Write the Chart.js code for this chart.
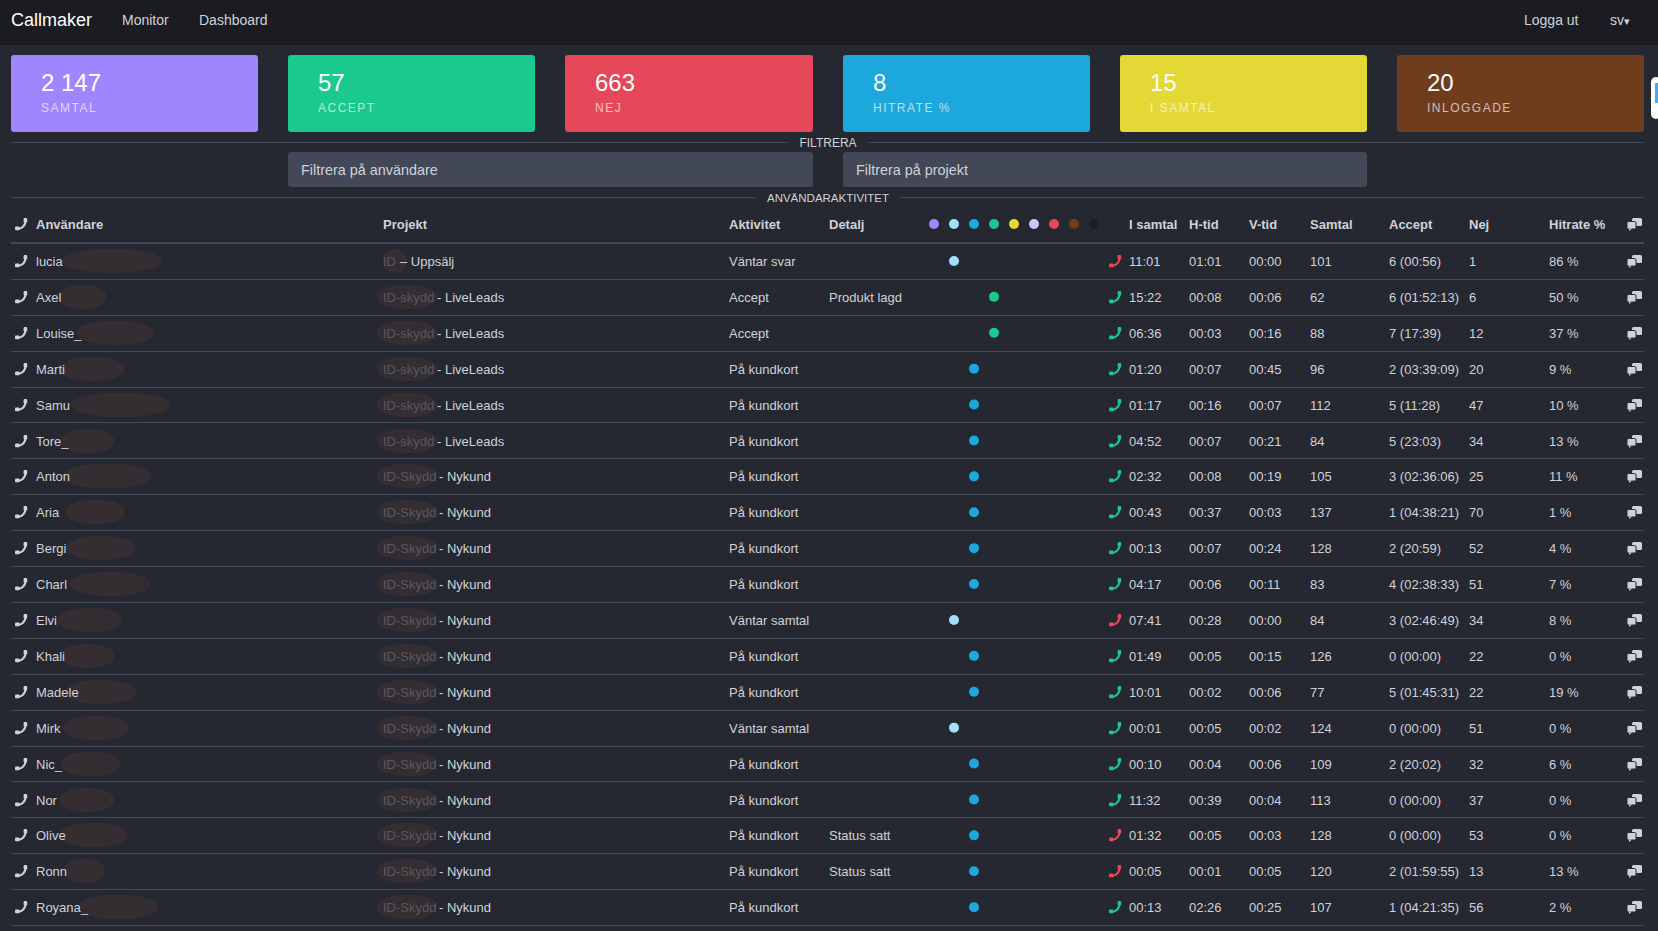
<!DOCTYPE html>
<html lang="sv">
<head>
<meta charset="utf-8">
<title>Callmaker</title>
<script src="https://cdn.jsdelivr.net/npm/chart.js@4"></script>
<style>
  html, body { margin: 0; height: 100%; overflow: hidden; background: #252830; color: #cfd2da;
    font: 13px "Liberation Sans", Arial, sans-serif; }
  #nav { position: absolute; left: 0; top: 0; width: 100%; height: 45px; background: #1a1c22; font-size: 14px; }
  #nav span { position: absolute; top: 0; line-height: 41px; }
  #nav .brand { left: 11px; font-size: 18px; color: #fff; }
  .card { position: absolute; top: 55px; width: 247px; height: 77px; border-radius: 3px; color: #fff; }
  .card b { position: absolute; left: 30px; top: 14px; font-size: 24px; font-weight: 400; line-height: 28px; }
  .card i { position: absolute; left: 30px; top: 45px; font-size: 12px; font-style: normal; letter-spacing: 1.5px;
    line-height: 16px; opacity: .65; }
  .rule { position: absolute; height: 1px; background: #434857; }
  .sect { position: absolute; width: 200px; left: 728px; text-align: center; font-size: 12px; line-height: 14px; }
  .filter { position: absolute; top: 152px; height: 35px; line-height: 36px; padding-left: 13px; background: #434857;
    border-radius: 3px; box-sizing: border-box; font-size: 14.4px; }
  .row { position: absolute; left: 11px; width: 1633px; height: 35.9px; border-bottom: 1px solid #434857; box-sizing: border-box; }
  .cell { position: absolute; white-space: nowrap; line-height: 20px; }
  .blot { position: absolute; height: 24px; background: #342e33; border-radius: 45%; }
  .dim { color: #5a5860; }
  svg { position: absolute; }
  #head { font-weight: 700; }
  #statusHead, #statusRows { position: absolute; left: 924px; width: 180px; }
  #statusHead { top: 206px; height: 36px; }
  #statusRows { top: 243px; height: 682.1px; }
  #widget { position: absolute; left: 1651px; top: 77px; width: 10px; height: 42px; background: #fff; border-radius: 6px; }
  #widget div { position: absolute; left: 4px; top: 6px; width: 6px; height: 20px; background: #4aa8f0; }
</style>
</head>
<body>
<div id="nav">
  <span class="brand">Callmaker</span>
  <span style="left:122px">Monitor</span>
  <span style="left:199px">Dashboard</span>
  <span style="left:1524px">Logga ut</span>
  <span style="left:1610px">sv<small style="font-size:11px">&#9662;</small></span>
</div>
<div id="cards"></div>
<div class="rule" style="left:11px;width:777px;top:142px"></div>
<div class="rule" style="left:868px;width:776px;top:142px"></div>
<div class="sect" style="top:136px">FILTRERA</div>
<div class="filter" style="left:288px;width:525px">Filtrera på användare</div>
<div class="filter" style="left:843px;width:524px">Filtrera på projekt</div>
<div class="rule" style="left:11px;width:744px;top:197px"></div>
<div class="rule" style="left:900px;width:744px;top:197px"></div>
<div class="sect" style="top:191px;font-size:11.5px">ANVÄNDARAKTIVITET</div>
<div id="head"></div>
<div class="rule" style="left:11px;width:1633px;top:242px;height:2px"></div>
<div id="rows"></div>
<div id="statusHead"><canvas id="statusHeadChart"></canvas></div>
<div id="statusRows"><canvas id="statusRowsChart"></canvas></div>
<div id="widget"><div></div></div>

<script>
// --- data ---
const kpiValues = ['2 147', '57', '663', '8', '15', '20'];
const kpiLabels = ['SAMTAL', 'ACCEPT', 'NEJ', 'HITRATE %', 'I SAMTAL', 'INLOGGADE'];
const kpiColors = ['#9f86ff', '#1bc98e', '#e64759', '#1ca8dd', '#e4d836', '#6f3c1e'];

const headers = ['Användare', 'Projekt', 'Aktivitet', 'Detalj', 'I samtal', 'H-tid', 'V-tid', 'Samtal', 'Accept', 'Nej', 'Hitrate %'];

// only the part of each name left readable in the picture
const users = ['lucia', 'Axel', 'Louise_', 'Marti', 'Samu', 'Tore_', 'Anton', 'Aria', 'Bergi', 'Charl', 'Elvi', 'Khali', 'Madele', 'Mirk', 'Nic_', 'Nor', 'Olive', 'Ronn', 'Royana_'];
const projectNames = ['ID', 'ID-skydd', 'ID-skydd', 'ID-skydd', 'ID-skydd', 'ID-skydd', 'ID-Skydd', 'ID-Skydd', 'ID-Skydd', 'ID-Skydd', 'ID-Skydd', 'ID-Skydd', 'ID-Skydd', 'ID-Skydd', 'ID-Skydd', 'ID-Skydd', 'ID-Skydd', 'ID-Skydd', 'ID-Skydd'];
const projectParts = ['– Uppsälj', '- LiveLeads', '- LiveLeads', '- LiveLeads', '- LiveLeads', '- LiveLeads', '- Nykund', '- Nykund', '- Nykund', '- Nykund', '- Nykund', '- Nykund', '- Nykund', '- Nykund', '- Nykund', '- Nykund', '- Nykund', '- Nykund', '- Nykund'];
const activities = ['Väntar svar', 'Accept', 'Accept', 'På kundkort', 'På kundkort', 'På kundkort', 'På kundkort', 'På kundkort', 'På kundkort', 'På kundkort', 'Väntar samtal', 'På kundkort', 'På kundkort', 'Väntar samtal', 'På kundkort', 'På kundkort', 'På kundkort', 'På kundkort', 'På kundkort'];
const details = ['', 'Produkt lagd', '', '', '', '', '', '', '', '', '', '', '', '', '', '', 'Status satt', 'Status satt', ''];
const redPhoneRows = [0, 10, 16, 17];
const inCall = ['11:01', '15:22', '06:36', '01:20', '01:17', '04:52', '02:32', '00:43', '00:13', '04:17', '07:41', '01:49', '10:01', '00:01', '00:10', '11:32', '01:32', '00:05', '00:13'];
const hTime = ['01:01', '00:08', '00:03', '00:07', '00:16', '00:07', '00:08', '00:37', '00:07', '00:06', '00:28', '00:05', '00:02', '00:05', '00:04', '00:39', '00:05', '00:01', '02:26'];
const vTime = ['00:00', '00:06', '00:16', '00:45', '00:07', '00:21', '00:19', '00:03', '00:24', '00:11', '00:00', '00:15', '00:06', '00:02', '00:06', '00:04', '00:03', '00:05', '00:25'];
const calls = [101, 62, 88, 96, 112, 84, 105, 137, 128, 83, 84, 126, 77, 124, 109, 113, 128, 120, 107];
const accepts = ['6 (00:56)', '6 (01:52:13)', '7 (17:39)', '2 (03:39:09)', '5 (11:28)', '5 (23:03)', '3 (02:36:06)', '1 (04:38:21)', '2 (20:59)', '4 (02:38:33)', '3 (02:46:49)', '0 (00:00)', '5 (01:45:31)', '0 (00:00)', '2 (20:02)', '0 (00:00)', '0 (00:00)', '2 (01:59:55)', '1 (04:21:35)'];
const noes = [1, 6, 12, 20, 47, 34, 25, 70, 52, 51, 34, 22, 22, 51, 32, 37, 53, 13, 56];
const hitrates = [86, 50, 37, 9, 10, 13, 11, 1, 4, 7, 8, 0, 19, 0, 6, 0, 0, 13, 2];

// status column of each row, one coloured column per status
const statusColors = ['#9f86ff', '#a0e0ff', '#1ca8dd', '#1bc98e', '#e4d836', '#cfc2ff', '#e64759', '#6f3c1e', '#1a1c22'];
const rowStatus = [1, 3, 3, 2, 2, 2, 2, 2, 2, 2, 1, 2, 2, 1, 2, 2, 2, 2, 2];

// --- layout ---
const cardX = [11, 288, 565, 843, 1120, 1397];
const headX = [36, 383, 729, 829, 1129, 1189, 1249, 1310, 1389, 1469, 1549];
const scrubs = [[63, 161], [60, 106], [77, 153], [61, 124], [72, 170], [61, 114], [63, 151], [66, 125], [67, 135], [70, 150], [58, 121], [61, 114], [66, 136], [63, 129], [61, 120], [60, 114], [60, 127], [64, 105], [79, 158]];

const PHONE = color => `<path d="M10.5 1.5C11 7 7 11.5 1.5 11" fill="none" stroke="${color}" stroke-width="2"/>
  <rect x="8.6" y="0" width="3.6" height="4.6" rx="1" fill="${color}"/>
  <rect x="0" y="8.4" width="4.6" height="3.8" rx="1" fill="${color}"/>`;
const phoneSvg = (x, y, color) => `<svg style="left:${x}px;top:${y}px" width="13" height="13" viewBox="0 0 13 13">${PHONE(color)}</svg>`;
const copySvg = (x, y) => `<svg style="left:${x}px;top:${y}px" width="15" height="13" viewBox="0 0 15 13">
  <rect x="5" y="0" width="10" height="8" rx="1.5" fill="#cfd2da"/>
  <rect x="0" y="3.5" width="9" height="7.5" rx="1.5" fill="#cfd2da" stroke="#252830"/>
  <path d="M2 10.5v2.5l3-2.5z" fill="#cfd2da"/></svg>`;
const cell = (x, text, cls, top = 8) => `<span class="cell ${cls || ''}" style="left:${x}px;top:${top}px">${text}</span>`;

// --- cards ---
document.getElementById('cards').innerHTML = kpiValues.map((value, i) =>
  `<div class="card" style="left:${cardX[i]}px;background:${kpiColors[i]}${i === 2 ? ';width:248px' : ''}"><b>${value}</b><i>${kpiLabels[i]}</i></div>`).join('');

// --- table ---
document.getElementById('head').innerHTML = `<div class="row" style="top:206px;border:0">` +
  phoneSvg(4, 12, '#cfd2da') +
  headers.map((h, i) => cell(headX[i] - 11, h, '', 8.5)).join('') +
  copySvg(1616, 12) + `</div>`;

document.getElementById('rows').innerHTML = users.map((user, i) => {
  const phoneColor = redPhoneRows.includes(i) ? '#e64759' : '#1bc98e';
  const partX = i === 0 ? 389 : (i < 6 ? 426 : 428);
  return `<div class="row" style="top:${(244 + i * 35.9).toFixed(1)}px">` +
    phoneSvg(4, 11, '#cfd2da') +
    `<div class="blot" style="left:${scrubs[i][0] - 11}px;width:${scrubs[i][1] - scrubs[i][0]}px;top:5px"></div>` +
    cell(25, user) +
    `<div class="blot" style="left:${i === 0 ? 372 : 366}px;width:${i === 0 ? 24 : 60}px;top:5px"></div>` +
    cell(372, projectNames[i], 'dim') +
    cell(partX, projectParts[i]) +
    cell(718, activities[i]) +
    cell(818, details[i]) +
    phoneSvg(1098, 11, phoneColor) +
    cell(1118, inCall[i]) +
    cell(1178, hTime[i]) +
    cell(1238, vTime[i]) +
    cell(1299, calls[i]) +
    cell(1378, accepts[i]) +
    cell(1458, noes[i]) +
    cell(1538, hitrates[i] + ' %') +
    copySvg(1616, 11) + `</div>`;
}).join('');

// --- status dots ---
function statusChart(canvasId, points, yMin, yMax) {
  new Chart(document.getElementById(canvasId), {
    type: 'scatter',
    data: {
      datasets: [{
        data: points,
        pointRadius: 5,
        pointBorderWidth: 0,
        pointBackgroundColor: points.map(p => statusColors[p.x])
      }]
    },
    options: {
      responsive: true,
      maintainAspectRatio: false,
      animation: false,
      layout: { padding: 0, autoPadding: false }, // no room reserved for the dots, columns must stay 20px apart
      plugins: { legend: { display: false }, tooltip: { enabled: false } },
      scales: {
        x: { type: 'linear', display: false, min: -0.5, max: statusColors.length - 0.5 },
        y: { type: 'linear', display: false, reverse: true, min: yMin, max: yMax }
      }
    }
  });
}

statusChart('statusHeadChart', statusColors.map((c, i) => ({ x: i, y: 0 })), -0.5, 0.5);
statusChart('statusRowsChart', rowStatus.map((s, i) => ({ x: s, y: i })), -0.5, users.length - 0.5);
</script>
</body>
</html>
